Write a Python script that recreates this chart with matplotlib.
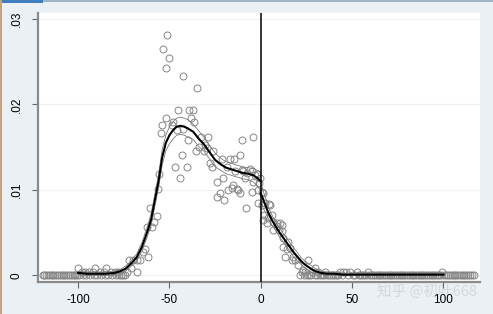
#!/usr/bin/env python3
# density discontinuity plot (McCrary style), Stata-like look
import numpy as np
import matplotlib
matplotlib.use("Agg")
import matplotlib.pyplot as plt
from matplotlib.patches import Rectangle

plt.rcParams['font.family'] = ['Liberation Sans', 'DejaVu Sans']

# binned density points
tail_left_x = [-119.5, -118.5, -117.5, -116.5, -115.5, -114.5, -113.5, -112.5, -111.5, -110.5,
               -109.5, -108.5, -107.5, -106.5, -105.5, -104.5, -103.5, -102.5, -101.5, -100.5,
               -99.5, -97.5, -95.5, -93.5, -91.5, -89.5, -87.5, -85.5, -83.5, -81.5,
               -79.5, -77.5, -76.5, -75.5, -74.5]
tail_right_x = [21.5, 23.5, 25.5, 26.5, 27.5, 29.5, 30.5, 32.5, 33.5, 34.5, 36.5, 37.5, 38.5, 39.5,
                40.5, 41.5, 42.5, 44.5, 47.5, 50.5, 51.5, 53.5, 54.5, 55.5, 56.5, 57.5, 59.5,
                60.5, 61.5, 62.5, 63.5, 64.5, 65.5, 66.5, 67.5, 68.5, 69.5, 70.5, 71.5, 72.5,
                73.5, 74.5, 75.5, 76.5, 77.5, 78.5, 79.5, 80.5, 81.5, 82.5, 83.5, 84.5, 85.5,
                86.5, 87.5, 88.5, 89.5, 90.5, 91.5, 92.5, 93.5, 94.5, 95.5, 96.5, 97.5, 98.5,
                100.5, 101.5, 102.5, 103.5, 104.5, 105.5, 106.5, 107.5, 108.5, 109.5, 110.5,
                111.5, 112.5, 113.5, 114.5, 115.5, 116.5]

bins_x = [-100.2, -98.0, -96.0, -94.0, -92.0, -90.6, -88.0, -86.0, -84.5, -82.0, -80.0, -78.0,
          -73.3, -72.0, -71.0, -69.9, -67.7, -67.7, -66.1, -64.5, -63.4, -62.3, -61.7, -60.6,
          -59.5, -58.4, -56.8, -56.3, -55.6, -54.6, -54.0, -53.7, -52.0, -51.9, -51.5, -50.4,
          -48.6, -48.0, -46.9, -46.0, -45.2, -44.2, -43.2, -42.6, -42.6, -40.4, -39.8, -39.3,
          -38.2, -37.1, -36.5, -35.5, -34.9, -33.8, -32.7, -31.0, -30.5, -29.4, -28.8, -27.8,
          -26.8, -26.0, -24.0, -24.0, -22.3, -21.1, -20.6, -20.0, -18.5, -17.9, -16.8, -15.7,
          -15.2, -14.6, -14.1, -13.0, -12.4, -11.3, -11.3, -10.2, -10.2, -9.7, -8.6, -8.0,
          -7.5, -5.9, -4.8, -4.8, -4.2, -4.2, -3.1, -2.0, -1.5, -1.5, -0.9, -0.4,
          0.7, 0.7, 1.3, 1.3, 1.8, 2.4, 3.4, 4.0, 4.5, 5.1, 6.2, 6.7, 6.7, 8.9, 8.9, 10.0,
          10.6, 11.6, 11.6, 12.2, 12.2, 13.3, 14.4, 15.0, 16.0, 17.1, 17.7, 18.8, 20.4,
          22.6, 23.2, 24.3, 25.9, 28.1, 29.7, 31.3, 35.2, 43.4, 45.0, 46.6, 48.9, 52.8,
          58.7, 99.3]
bins_y = [.0009, .00045, .00045, .00045, .00045, .0009, .00045, .00045, .0009, .00045, .00045, .00045,
          .00045, .0018, .0009, .0018, .0018, .00045, .0018, .0027, .0031, .0057, .0022, .0079,
          .0057, .0063, .0070, .0101, .0119, .0167, .0176, .0265, .0242, .0184, .0281, .0254,
          .0176, .0180, .0127, .0170, .0193, .0114, .0141, .0233, .0171, .0127, .0158, .0193,
          .0184, .0193, .0180, .0145, .0219, .0150, .0162, .0145, .0153, .0149, .0162, .0131,
          .0127, .0145, .0109, .0092, .0096, .0136, .0114, .0088, .0127, .0100, .0136, .0102,
          .0106, .0136, .0122, .0101, .0100, .0141, .0096, .0158, .0123, .0122, .0114, .0079,
          .0120, .0124, .0122, .0098, .0162, .0109, .0117, .0119, .0085, .0100, .0108, .0114,
          .0098, .0082, .0096, .0065, .0071, .0085, .0061, .0067, .0084, .0082, .0071, .0063,
          .0053, .0058, .0061, .0053, .0061, .0052, .0059, .0044, .0033, .0022, .0031, .0039,
          .0032, .0018, .0022, .0018, .0012, .00045, .0006, .00045, .0018, .00045, .0009,
          .00045, .00045, .00045, .00045, .00045, .00045, .00045, .00045, .00045]

# fitted density, left and right of the cutoff, with CI half-widths
left_x = [-100, -95, -90, -85, -80, -77, -74, -71, -68, -65, -62, -60, -58, -56, -54, -52, -50,
          -48, -46, -44, -42, -40, -37, -34, -31, -28, -25, -22, -19, -16, -13, -10, -7, -4, -2, 0]
left_y = [.0003, .0002, .0002, .0002, .0003, .0005, .0008, .0014, .0021, .0034, .0052, .0066,
          .0088, .0110, .0138, .0155, .0164, .0170, .0174, .0175, .0174, .0172, .0168, .0160,
          .0153, .0144, .0135, .0130, .0126, .0124, .0122, .0120, .0119, .0117, .0114, .0110]
left_ci = [.0002, .0002, .0002, .0002, .0002, .0002, .0003, .0003, .0004, .0005, .0006, .0007,
           .0007, .0008, .0009, .0009, .0010, .0010, .0010, .0010, .0010, .0010, .0009, .0009,
           .0008, .0008, .0008, .0007, .0007, .0007, .0007, .0007, .0007, .0008, .0009, .0011]
right_x = [0, 2, 4, 6, 8, 10, 12, 14, 16, 18, 20, 22, 24, 26, 28, 30, 33, 36, 40, 45, 50, 60,
           70, 80, 90, 100]
right_y = [.0096, .0085, .0074, .0065, .0058, .0051, .0045, .0039, .0033, .0027, .0022, .0017,
           .0013, .0010, .0007, .0005, .0003, .0002, .0002, .0001, .0001, .0001, .0001, .0001,
           .0001, .0001]
right_ci = [.0012, .0009, .0007, .0006, .0005, .0005, .0005, .0005, .0005, .0005, .0005, .0004,
            .0004, .0004, .0004, .0003, .0002, .0002, .0002, .0001, .0001, .0001, .0001, .0001,
            .0001, .0001]

xticks = [-100, -50, 0, 50, 100]
xlabels = ["-100", "-50", "0", "50", "100"]
yticks = [0, .01, .02, .03]
ylabels = ["0", ".01", ".02", ".03"]

bg = '#eaf0f4'
fig = plt.figure(figsize=(4.93, 3.14), dpi=100, facecolor=bg)
ax = fig.add_axes([0.077, 0.102, 0.897, 0.857])
ax.set_facecolor('white')

mk = dict(linestyle='none', marker='o', markersize=5.0, markerfacecolor='none',
          markeredgecolor='#858585', markeredgewidth=0.7, zorder=2)
ax.plot(tail_left_x, [0] * len(tail_left_x), **mk)
ax.plot(tail_right_x, [0] * len(tail_right_x), **mk)
ax.plot(bins_x, bins_y, **mk)

for xs, ys, cis in [(left_x, left_y, left_ci), (right_x, right_y, right_ci)]:
    xs, ys, cis = np.array(xs), np.array(ys), np.array(cis)
    ax.plot(xs, ys + cis, color='#7a7a7a', lw=0.6, zorder=3)
    ax.plot(xs, ys - cis, color='#7a7a7a', lw=0.6, zorder=3)
    ax.plot(xs, ys, color='black', lw=1.5, zorder=4)

ax.axvline(0, color='black', lw=1.1, zorder=5)

ax.set_xlim(-122, 120.1)
ax.set_ylim(-0.00076, 0.0307)
ax.set_xticks(xticks)
ax.set_xticklabels(xlabels, fontsize=8.5)
ax.set_yticks(yticks)
ax.set_yticklabels(ylabels, fontsize=8.5, rotation=90, va='center')
ax.tick_params(axis='both', length=4, width=0.8, color='#666666', pad=5)
ax.tick_params(axis='y', pad=7)
ax.yaxis.grid(True, color='#eef3f6', lw=0.9)
ax.set_axisbelow(True)
for s in ['top', 'right']:
    ax.spines[s].set_visible(False)
for s in ['left', 'bottom']:
    ax.spines[s].set_color('#8a8a8a')
    ax.spines[s].set_linewidth(1.6)

# screenshot frame bits
fig.add_artist(Rectangle((0, 1 - 2 / 314), 1, 2 / 314, transform=fig.transFigure,
                         color='#9fb4c8', lw=0))
fig.add_artist(Rectangle((0, 1 - 3 / 314), 43 / 493, 3 / 314, transform=fig.transFigure,
                         color='#3f7fc0', lw=0))
fig.add_artist(Rectangle((0, 0), 2 / 493, 1, transform=fig.transFigure,
                         color='#c6a27c', lw=0))

# watermark sits under the tick labels, as in the screenshot
fig.text(427 / 493, 1 - 292 / 314, "知乎 @初叶668", fontsize=10.5, color='#d4d8dc',
         family=['Noto Sans CJK SC', 'DejaVu Sans'], ha='center', va='center', zorder=-1)

fig.savefig("out.png", dpi=100, facecolor=bg)
